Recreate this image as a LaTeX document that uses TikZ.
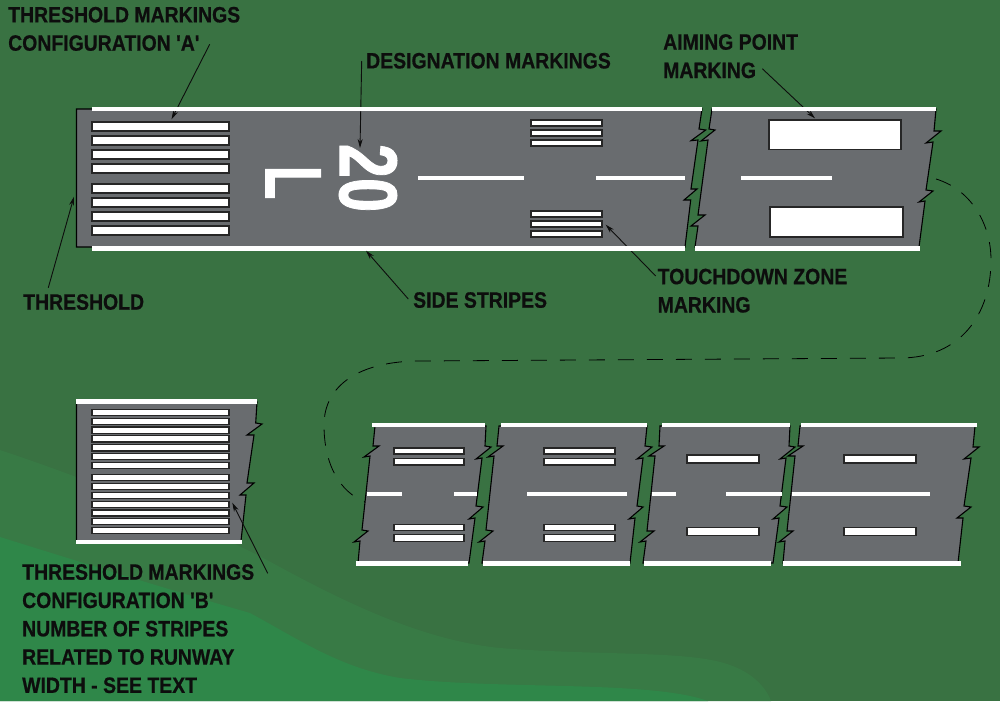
\documentclass[tikz,border=0pt]{standalone}
\usepackage{fontspec}
\usetikzlibrary{arrows.meta}
\newfontfamily\lblfont{Liberation Sans}[FakeStretch=0.875,FakeBold=0.6]
\newfontfamily\numfont{Liberation Sans}[FakeBold=1.2]
\definecolor{grassA}{HTML}{397242}
\definecolor{grassB}{HTML}{387A45}
\definecolor{grassC}{HTML}{2F8749}
\definecolor{asphalt}{HTML}{696C6F}
\definecolor{inkc}{HTML}{0D0D0D}
\tikzset{
  pave/.style={fill=asphalt,draw=black,line width=1.1pt,line join=miter},
  edgestripe/.style={fill=white,draw=none},
  centreline/.style={fill=white,draw=none},
  bar/.style={fill=white,draw=black!85,line width=1.3pt},
  lbl/.style={font=\lblfont\bfseries\fontsize{22.2}{28.3}\selectfont,text=inkc,anchor=north west,inner sep=0pt,align=left},
  lead/.style={draw=inkc,line width=.9pt,-{Stealth[length=9pt,width=5pt]}},
  route/.style={draw=black,line width=.8pt,dash pattern=on 16pt off 13pt}
}
\begin{document}
\begin{tikzpicture}[x=1pt,y=-1pt]
\useasboundingbox (0,0) rectangle (1000,701);
\clip (0,0) rectangle (1000,701);
% ground
\fill[grassA] (0,0) rectangle (1000,701);
\fill[grassB] (0,450) .. controls (90,480) and (190,520) .. (267,560)
  .. controls (340,600) and (420,640) .. (500,648)
  .. controls (600,656) and (690,650) .. (730,665)
  .. controls (750,672) and (765,685) .. (771,701) -- (0,701) -- cycle;
\fill[grassC] (0,537) .. controls (90,565) and (170,590) .. (250,613)
  .. controls (300,640) and (340,668) .. (400,678)
  .. controls (500,690) and (650,680) .. (708,701) -- (0,701) -- cycle;
% dashed route
\coordinate (routeA) at (936,179);
\coordinate (routeB) at (365,502);
\draw[route] (routeA) .. controls (972,190) and (991,225) .. (991,260)
  .. controls (991,315) and (960,358) .. (900,358)
  -- (420,361) .. controls (360,361) and (324,385) .. (324,425)
  .. controls (324,465) and (340,492) .. (routeB);
% pavements
\draw[pave] (92,109) -- (76.5,109) -- (76.5,247) -- (92,247) -- (685,247)
  -- (690.7,200) -- (684,200) -- (697,189) -- (691,189) -- (698,140) -- (691,140.7)
  -- (705.7,130) -- (699,129) -- (702,109) -- cycle;
\draw[pave] (712,109) -- (709,129) -- (715,130) -- (701,141) -- (708,140)
  -- (698,215) -- (705,215) -- (691,226) -- (698,226) -- (695,247) -- (919,247)
  -- (925,201) -- (919,202) -- (933,191) -- (926,190) -- (933,142) -- (926,143)
  -- (941,131) -- (934,131) -- (936,109) -- cycle;
\draw[pave] (76.5,402) -- (76.5,541) -- (241,541) -- (246,495) -- (240,495)
  -- (254,483) -- (247,483) -- (254,435) -- (247,435) -- (262,424) -- (255.7,423)
  -- (257,402) -- cycle;
\draw[pave] (375,426) -- (373,446) -- (379,446) -- (364,457) -- (370,456)
  -- (362,530) -- (368,531) -- (354,542) -- (360,541) -- (358,563) -- (469,563)
  -- (475,518) -- (469,519) -- (483,507) -- (476,506) -- (482,458) -- (476,459)
  -- (491,447) -- (485,446) -- (486,426) -- cycle;
\draw[pave] (499,426) -- (497,446) -- (503,446) -- (488,457) -- (494,456)
  -- (486,530) -- (493,531) -- (479,542) -- (485,541) -- (482,563) -- (630,563)
  -- (635,518) -- (629,519) -- (643,507) -- (637,506) -- (643,458) -- (637,459)
  -- (652,447) -- (645,446) -- (647,426) -- cycle;
\draw[pave] (660,426) -- (659,446) -- (664,446) -- (649,456) -- (655,456)
  -- (647,531) -- (654,531) -- (640,542) -- (646,541) -- (643,563) -- (773,563)
  -- (779,518) -- (773,519) -- (787,507) -- (780,506) -- (786,458) -- (780,459)
  -- (795,447) -- (789,446) -- (790,426) -- cycle;
\draw[pave] (800,426) -- (798,446) -- (803,446) -- (788,456) -- (795,456)
  -- (787,531) -- (793,531) -- (779,542) -- (785,541) -- (783,563) -- (958,563)
  -- (963,518) -- (957,518) -- (971,507) -- (964,506) -- (971,458) -- (964,459)
  -- (979,447) -- (973,447) -- (975,426) -- cycle;
% threshold A
\foreach \ya/\yb in {122/131,136/145,150/159,164/173,184/193,198/207,212/221,226/235}
  {\draw[bar] (92,\ya) rectangle (229,\yb);}
% threshold B
\foreach \ya/\yb in {409.5/415.5,418.3/424.3,427/433.3,435.7/442,444.7/451,453.3/459.7,462.3/468.7,
  474.7/480.7,483.7/489.7,492.3/498.7,501.3/507.3,510/516,518.7/524.7,527.3/533.7}
  {\draw[bar] (92,\ya) rectangle (229,\yb);}
% touchdown, aiming
\foreach \ya/\yb in {120/126,130/136,140/146,211/217,221/227,231/237}
  {\draw[bar] (531,\ya) rectangle (602,\yb);}
\draw[bar] (769,120) rectangle (901,149.5);
\draw[bar] (770,207) rectangle (903,237);
\foreach \xa/\xb in {394/464,544/615}
  \foreach \ya/\yb in {448/454,458.5/465,524.3/530.7,534.7/541.3}
  {\draw[bar] (\xa,\ya) rectangle (\xb,\yb);}
\foreach \xa/\xb in {687/759,844/916}
  \foreach \ya/\yb in {455/463,527.3/535.3}
  {\draw[bar] (\xa,\ya) rectangle (\xb,\yb);}
% centre lines
\foreach \xa/\xb in {418/524,596/685,741/832}
  {\fill[centreline] (\xa,176.2) rectangle (\xb,180.2);}
\foreach \xa/\xb in {367/402,454/477,527/627,652/676,726/782,792/930}
  {\fill[centreline] (\xa,491.8) rectangle (\xb,495.6);}
% designation
\node[inner sep=0pt,rotate=-90,font=\numfont\bfseries\fontsize{82}{82}\selectfont,text=white] (num) at (368,178) {\scalebox{.75}[1]{20}};
\node[inner sep=0pt,rotate=-90,font=\numfont\bfseries\fontsize{80}{80}\selectfont,text=white] (side) at (293,182.5) {\scalebox{.7}[1]{L}};
% labels
\node[lbl] (tA) at (8,6.7) {THRESHOLD MARKINGS\\CONFIGURATION 'A'};
\node[lbl] (dm) at (366,52.7) {DESIGNATION MARKINGS};
\node[lbl] (ap) at (663,34) {AIMING POINT\\MARKING};
\node[lbl] (th) at (23,294) {THRESHOLD};
\node[lbl] (ss) at (413,292) {SIDE STRIPES};
\node[lbl] (td) at (657.5,268.5) {TOUCHDOWN ZONE\\MARKING};
\node[lbl] (tB) at (22,564) {THRESHOLD MARKINGS\\CONFIGURATION 'B'\\NUMBER OF STRIPES\\RELATED TO RUNWAY\\WIDTH - SEE TEXT};
% leaders
\coordinate (tAs) at (209.7,44.3); \coordinate (tAe) at (171.5,119.3);
\coordinate (dms) at (361.7,61);   \coordinate (dme) at (360,148);
\coordinate (ths) at (48.3,287.7); \coordinate (the) at (74,196.7);
\coordinate (sss) at (408.3,299);  \coordinate (sse) at (366,250.7);
\coordinate (aps) at (762.3,68.7); \coordinate (ape) at (815,118.3);
\coordinate (tds) at (655.7,276);  \coordinate (tde) at (605.7,224.7);
\coordinate (tBs) at (267.7,573.3);\coordinate (tBe) at (232.3,502.7);
\draw[lead] (tAs) -- (tAe);
\draw[lead] (dms) -- (dme);
\draw[lead] (ths) -- (the);
\draw[lead] (aps) -- (ape);
\draw[lead] (tds) -- (tde);
\draw[lead] (tBs) -- (tBe);
% edge stripes (over the leaders)
\foreach \xa/\xb/\ya in {92/702/106.7,92/685/246,712/936/106.7,695/920/246,
  76/257/399.3,76/242/539.7,372/485/422.7,356/468/561.3,501/647/422.7,483/630/561.3,
  662/790/422.7,644/771/561.3,801/977/422.7,783/961/561.3}
  {\fill[edgestripe] (\xa,\ya) rectangle (\xb,\ya+4.6);}
\draw[lead] (sss) -- (sse);
\end{tikzpicture}
\end{document}
